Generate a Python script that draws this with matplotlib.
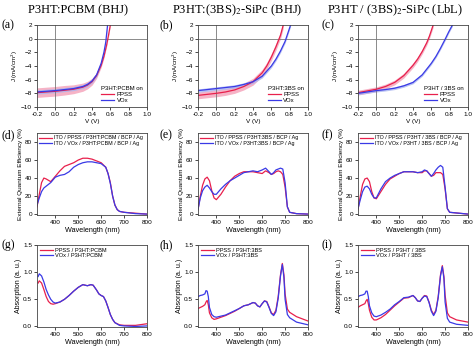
import matplotlib
matplotlib.use("Agg")
import matplotlib.pyplot as plt
import numpy as np

RED = "#e8204c"
BLUE = "#3a3ae6"
RED_BAND = "#f4a0b8"
BLUE_BAND = "#a8b4f0"

titles = ["P3HT:PCBM (BHJ)", "P3HT:(3BS)$_2$-SiPc (BHJ)", "P3HT / (3BS)$_2$-SiPc (LbL)"]
jv_legend_titles = ["P3HT:PCBM on", "P3HT:3BS on", "P3HT / 3BS on"]
series_names = ["PPSS", "VOx"]

# ---- J-V data ----
jv_a_ppss_v = [-0.2, 0.0, 0.1, 0.2, 0.3, 0.35, 0.4, 0.45, 0.5, 0.53, 0.56, 0.58, 0.6]
jv_a_ppss_j = [-7.9, -7.7, -7.55, -7.4, -7.1, -6.8, -6.3, -5.4, -3.9, -2.6, -0.9, 0.5, 2.0]
jv_a_ppss_e = [0.7, 0.7, 0.7, 0.65, 0.6, 0.55, 0.5, 0.4, 0.3, 0.25, 0.2, 0.2, 0.2]
jv_a_vox_v = [-0.2, 0.0, 0.1, 0.2, 0.3, 0.35, 0.4, 0.45, 0.5, 0.53, 0.55, 0.57]
jv_a_vox_j = [-7.8, -7.6, -7.45, -7.3, -7.0, -6.7, -6.2, -5.3, -3.6, -2.0, -0.5, 2.0]
jv_a_vox_e = [0.3] * 12

jv_b_ppss_v = [-0.2, 0.0, 0.1, 0.2, 0.3, 0.4, 0.5, 0.55, 0.6, 0.65, 0.7, 0.73]
jv_b_ppss_j = [-8.3, -8.0, -7.8, -7.5, -7.0, -6.3, -5.0, -4.0, -2.7, -1.2, 0.5, 2.0]
jv_b_ppss_e = [0.5, 0.5, 0.5, 0.5, 0.5, 0.5, 0.5, 0.5, 0.5, 0.5, 0.5, 0.5]
jv_b_vox_v = [-0.2, 0.0, 0.1, 0.2, 0.3, 0.4, 0.5, 0.6, 0.65, 0.7, 0.75, 0.78, 0.81]
jv_b_vox_j = [-7.6, -7.3, -7.15, -7.0, -6.7, -6.3, -5.5, -4.0, -3.0, -1.8, -0.4, 0.8, 2.0]
jv_b_vox_e = [0.25] * 13

jv_c_ppss_v = [-0.2, -0.1, 0.0, 0.1, 0.2, 0.3, 0.4, 0.45, 0.5, 0.55, 0.58, 0.62]
jv_c_ppss_j = [-7.9, -7.65, -7.4, -7.0, -6.4, -5.4, -3.9, -3.0, -1.9, -0.6, 0.4, 2.0]
jv_c_ppss_e = [0.35] * 12
jv_c_vox_v = [-0.2, 0.0, 0.1, 0.2, 0.3, 0.4, 0.5, 0.6, 0.65, 0.7, 0.75, 0.79, 0.83]
jv_c_vox_j = [-8.0, -7.6, -7.45, -7.25, -6.9, -6.4, -5.3, -3.6, -2.6, -1.4, -0.1, 1.0, 2.0]
jv_c_vox_e = [0.2] * 13

# ---- EQE data ----
eqe_legends = [
    ["ITO / PPSS / P3HT:PCBM / BCP / Ag", "ITO / VOx / P3HT:PCBM / BCP / Ag"],
    ["ITO / PPSS / P3HT:3BS / BCP / Ag", "ITO / VOx / P3HT:3BS / BCP / Ag"],
    ["ITO / PPSS / P3HT / 3BS / BCP / Ag", "ITO / VOx / P3HT / 3BS / BCP / Ag"],
]
eqe_d_wl = [320, 330, 340, 350, 360, 380, 400, 420, 440, 460, 480, 500, 520, 540, 560, 580, 600, 620, 630, 640, 650, 660, 670, 680, 700, 750, 800]
eqe_d_ppss = [8, 22, 35, 40, 39, 36, 42, 48, 53, 55, 57, 60, 62, 62, 61, 59, 57, 52, 45, 35, 20, 10, 5, 3, 2, 1, 0]
eqe_d_vox = [10, 18, 25, 29, 31, 35, 41, 43, 44, 47, 52, 55, 57, 58, 58, 57, 56, 52, 45, 34, 20, 10, 5, 3, 2, 0.5, 0]

eqe_e_wl = [320, 330, 340, 350, 360, 370, 380, 390, 400, 420, 440, 460, 480, 500, 520, 540, 560, 580, 600, 615, 630, 640, 650, 660, 670, 680, 690, 700, 710, 720, 750, 800]
eqe_e_ppss = [5, 20, 32, 39, 41, 37, 26, 18, 16, 22, 30, 37, 42, 45, 47, 47, 47, 46, 45, 48, 46, 44, 45, 47, 48, 47, 44, 30, 8, 2, 0.5, 0]
eqe_e_vox = [5, 18, 26, 30, 32, 29, 25, 22, 22, 28, 33, 37, 40, 43, 46, 47, 48, 47, 49, 51, 47, 44, 46, 49, 50, 51, 50, 35, 8, 2, 0.5, 0]

eqe_f_wl = [320, 330, 340, 350, 360, 370, 380, 390, 400, 420, 440, 460, 480, 500, 520, 540, 560, 580, 600, 610, 620, 630, 640, 650, 660, 670, 680, 690, 700, 710, 720, 800]
eqe_f_ppss = [5, 20, 33, 39, 40, 36, 25, 18, 17, 25, 33, 39, 42, 45, 47, 47, 47, 46, 46, 48, 48, 45, 42, 43, 46, 46, 46, 44, 28, 6, 2, 0]
eqe_f_vox = [6, 16, 25, 30, 31, 28, 22, 18, 18, 28, 36, 40, 43, 45, 47, 47, 47, 46, 47, 49, 48, 45, 42, 45, 49, 52, 54, 52, 30, 6, 2, 0]

# ---- Absorption data ----
abs_legends = [
    ["PPSS / P3HT:PCBM", "VOx / P3HT:PCBM"],
    ["PPSS / P3HT:3BS", "VOx / P3HT:3BS"],
    ["PPSS / P3HT / 3BS", "VOx / P3HT / 3BS"],
]
abs_g_wl = [325, 330, 340, 350, 360, 370, 380, 390, 400, 420, 440, 460, 480, 500, 520, 540, 555, 565, 580, 590, 600, 610, 620, 630, 640, 650, 660, 680, 700, 750, 800]
abs_g_ppss = [0.80, 0.84, 0.80, 0.68, 0.55, 0.46, 0.42, 0.41, 0.42, 0.45, 0.50, 0.57, 0.65, 0.72, 0.77, 0.75, 0.77, 0.76, 0.67, 0.60, 0.57, 0.55, 0.47, 0.35, 0.22, 0.13, 0.07, 0.03, 0.02, 0.02, 0.05]
abs_g_vox = [0.92, 0.97, 0.93, 0.82, 0.68, 0.58, 0.50, 0.45, 0.43, 0.45, 0.50, 0.57, 0.65, 0.72, 0.77, 0.75, 0.77, 0.76, 0.67, 0.60, 0.57, 0.55, 0.47, 0.35, 0.22, 0.13, 0.07, 0.02, 0.01, 0.0, 0.01]

abs_h_wl = [320, 330, 340, 350, 355, 360, 365, 370, 380, 390, 400, 420, 440, 460, 480, 500, 520, 540, 560, 570, 580, 590, 600, 610, 620, 630, 640, 650, 660, 670, 680, 688, 695, 700, 710, 720, 750, 800]
abs_h_ppss = [0.33, 0.35, 0.37, 0.40, 0.45, 0.48, 0.40, 0.25, 0.16, 0.13, 0.14, 0.17, 0.20, 0.24, 0.28, 0.33, 0.38, 0.40, 0.44, 0.43, 0.38, 0.36, 0.42, 0.47, 0.46, 0.36, 0.25, 0.22, 0.30, 0.55, 0.95, 1.16, 0.95, 0.60, 0.32, 0.26, 0.18, 0.10]
abs_h_vox = [0.55, 0.57, 0.58, 0.60, 0.66, 0.65, 0.55, 0.35, 0.22, 0.18, 0.17, 0.19, 0.21, 0.25, 0.29, 0.33, 0.38, 0.40, 0.44, 0.43, 0.38, 0.36, 0.42, 0.47, 0.45, 0.35, 0.24, 0.20, 0.27, 0.52, 0.93, 1.14, 0.90, 0.50, 0.22, 0.16, 0.08, 0.03]

abs_i_wl = abs_h_wl
abs_i_ppss = [0.35, 0.38, 0.40, 0.42, 0.47, 0.50, 0.42, 0.30, 0.17, 0.12, 0.12, 0.16, 0.22, 0.30, 0.38, 0.45, 0.52, 0.53, 0.57, 0.53, 0.47, 0.46, 0.52, 0.57, 0.56, 0.45, 0.30, 0.22, 0.30, 0.55, 0.95, 1.12, 0.92, 0.58, 0.25, 0.18, 0.12, 0.08]
abs_i_vox = [0.55, 0.57, 0.58, 0.60, 0.65, 0.65, 0.55, 0.38, 0.25, 0.19, 0.18, 0.21, 0.26, 0.32, 0.40, 0.46, 0.53, 0.54, 0.57, 0.53, 0.47, 0.46, 0.52, 0.56, 0.55, 0.44, 0.28, 0.20, 0.28, 0.53, 0.93, 1.10, 0.88, 0.45, 0.15, 0.08, 0.04, 0.02]

jv_data = [
    (jv_a_ppss_v, jv_a_ppss_j, jv_a_ppss_e, jv_a_vox_v, jv_a_vox_j, jv_a_vox_e),
    (jv_b_ppss_v, jv_b_ppss_j, jv_b_ppss_e, jv_b_vox_v, jv_b_vox_j, jv_b_vox_e),
    (jv_c_ppss_v, jv_c_ppss_j, jv_c_ppss_e, jv_c_vox_v, jv_c_vox_j, jv_c_vox_e),
]
eqe_data = [(eqe_d_wl, eqe_d_ppss, eqe_d_vox), (eqe_e_wl, eqe_e_ppss, eqe_e_vox), (eqe_f_wl, eqe_f_ppss, eqe_f_vox)]
abs_data = [(abs_g_wl, abs_g_ppss, abs_g_vox), (abs_h_wl, abs_h_ppss, abs_h_vox), (abs_i_wl, abs_i_ppss, abs_i_vox)]

W, H = 474, 347
fig = plt.figure(figsize=(W / 100, H / 100), dpi=100)
plt.rcParams['font.family'] = ['Liberation Sans', 'DejaVu Sans']

col_left = [37, 198, 358]
row_top = [25, 133, 245]
aw, ah = 110, 82

def mk(col, row):
    l = col_left[col]
    t = row_top[row]
    return fig.add_axes([l / W, 1 - (t + ah) / H, aw / W, ah / H])

FS = 4.6

def style(ax):
    ax.tick_params(labelsize=FS, length=2, width=0.5, pad=1.5, direction='out')
    for s in ax.spines.values():
        s.set_linewidth(0.6)
        s.set_color('#444444')

labels = "abcdefghi"
title_x = [78, 237, 395]
for c in range(3):
    fig.text(title_x[c] / W, 1 - 10 / H, titles[c], ha='center', va='center',
             family=['Liberation Serif', 'DejaVu Serif'], fontsize=9, math_fontfamily='stix')

for c in range(3):
    # J-V
    ax = mk(c, 0)
    style(ax)
    pv, pj, pe, vv, vj, ve = jv_data[c]
    pj, pe, vj, ve = map(np.array, (pj, pe, vj, ve))
    ax.axhline(0, color='#777777', lw=0.6)
    ax.axvline(0, color='#777777', lw=0.6)
    ax.fill_between(pv, pj - pe, pj + pe, color=RED_BAND, lw=0, alpha=0.8)
    ax.fill_between(vv, vj - ve, vj + ve, color=BLUE_BAND, lw=0, alpha=0.8)
    ax.plot(pv, pj, color=RED, lw=0.9, label=series_names[0])
    ax.plot(vv, vj, color=BLUE, lw=0.9, label=series_names[1])
    ax.set_xlim(-0.2, 1.0)
    ax.set_ylim(-10, 2)
    ax.set_xticks(np.arange(-0.2, 1.01, 0.2))
    ax.set_xticklabels(["-0.2", "0.0", "0.2", "0.4", "0.6", "0.8", "1.0"])
    ax.set_yticks([2, 0, -2, -4, -6, -8, -10])
    ax.set_xlabel("V (V)", fontsize=FS, labelpad=1.5)
    ax.set_ylabel("J (mA/cm$^2$)", fontsize=FS - 0.3, labelpad=1)
    leg = ax.legend(title=jv_legend_titles[c], loc='lower right', fontsize=4.3, title_fontsize=4.3,
                    frameon=False, handlelength=2.2, borderaxespad=0.3, labelspacing=0.15,
                    handletextpad=0.4, bbox_to_anchor=(1.0, 0.0))
    leg._legend_box.align = "left"

    # EQE
    ax = mk(c, 1)
    style(ax)
    wl, p, v = eqe_data[c]
    ax.plot(wl, p, color=RED, lw=0.9, label=eqe_legends[c][0])
    ax.plot(wl, v, color=BLUE, lw=0.9, label=eqe_legends[c][1])
    ax.set_xlim(320, 800)
    ax.set_ylim(-1, 90)
    ax.set_xticks([400, 500, 600, 700, 800])
    ax.set_yticks([0, 20, 40, 60, 80])
    ax.set_xlabel("Wavelength (nm)", fontsize=FS + 0.6, labelpad=1.5)
    ax.set_ylabel("External Quantum Efficiency (%)", fontsize=FS, labelpad=1)
    ax.legend(loc='upper left', fontsize=3.9, frameon=False, handlelength=2.3,
              borderaxespad=0.25, labelspacing=0.1, handletextpad=0.3, borderpad=0.2)

    # Absorption
    ax = mk(c, 2)
    style(ax)
    wl, p, v = abs_data[c]
    ax.plot(wl, p, color=RED, lw=0.9, label=abs_legends[c][0])
    ax.plot(wl, v, color=BLUE, lw=0.9, label=abs_legends[c][1])
    ax.set_xlim(320, 800)
    ax.set_ylim(-0.01, 1.5)
    ax.set_xticks([400, 500, 600, 700, 800])
    ax.set_yticks([0.0, 0.5, 1.0, 1.5])
    ax.set_yticklabels(["0.0", "0.5", "1.0", "1.5"])
    ax.set_xlabel("Wavelength (nm)", fontsize=FS + 0.6, labelpad=1.5)
    ax.set_ylabel("Absorption (a. u.)", fontsize=FS + 0.4, labelpad=1)
    ax.legend(loc='upper left', fontsize=4.1, frameon=False, handlelength=2.3,
              borderaxespad=0.3, labelspacing=0.1, handletextpad=0.4, borderpad=0.2)

lab_x = [2, 160, 321]
lab_y = [25, 135, 245]
i = 0
for r in range(3):
    for c in range(3):
        fig.text(lab_x[c] / W, 1 - lab_y[r] / H, "(" + labels[i] + ")", ha='left', va='center',
                 family=['Liberation Serif', 'DejaVu Serif'], fontsize=8.5)
        i += 1

fig.savefig("out.png", dpi=100)
